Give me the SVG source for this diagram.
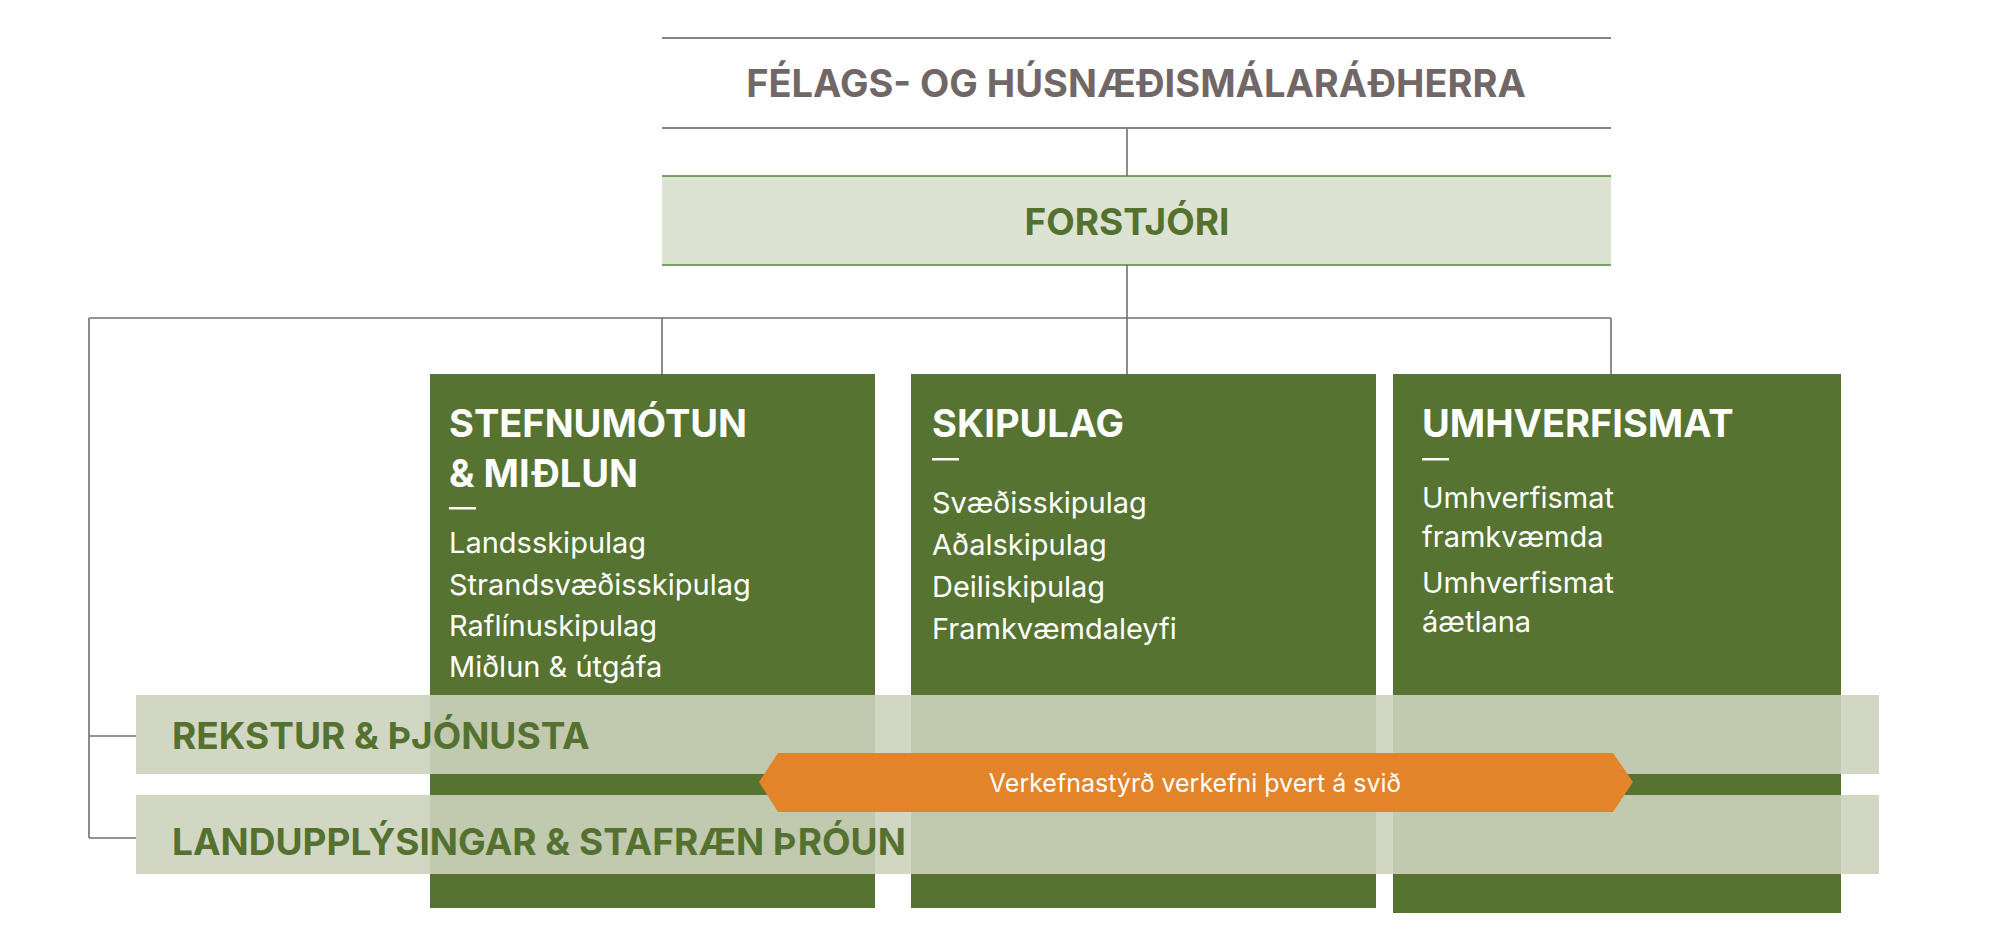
<svg xmlns="http://www.w3.org/2000/svg" width="2000" height="945" viewBox="0 0 2000 945">
<style>
text{font-family:Inter,Roboto,"Liberation Sans",sans-serif}
.con{stroke:#707070;stroke-width:1.6;fill:none}
.box{fill:#567332}
.h{fill:#fff;font-weight:700;font-size:38px}
.i{fill:#fff;font-size:29px}
.band{fill:#cdd3bd;opacity:0.9}
.bt{fill:#55712f;font-weight:700;font-size:37px}
</style>
<rect width="2000" height="945" fill="#fff"/>
<g id="connectors">
<path class="con" d="M1127 128V176M1127 265V374M89 318H1611M662 318V374M1611 318V374M89 318V838M89 736H136M89 838H136"/>
</g>
<g id="minister">
<line x1="662" y1="38" x2="1611" y2="38" stroke="#8a8282" stroke-width="2"/>
<line x1="662" y1="128" x2="1611" y2="128" stroke="#8a8282" stroke-width="2"/>
<text x="1136" y="97" text-anchor="middle" fill="#716767" font-weight="700" font-size="38">FÉLAGS- OG HÚSNÆÐISMÁLARÁÐHERRA</text>
</g>
<g id="forstjori">
<rect x="662" y="176" width="949" height="89" fill="#dde3d3"/>
<line x1="662" y1="176" x2="1611" y2="176" stroke="#4f8a3a" stroke-width="1.5"/>
<line x1="662" y1="265" x2="1611" y2="265" stroke="#4f8a3a" stroke-width="1.5"/>
<text x="1127" y="235" text-anchor="middle" fill="#55712f" font-weight="700" font-size="37">FORSTJÓRI</text>
</g>
<g id="stefnumotun">
<rect class="box" x="430" y="374" width="445" height="534"/>
<text class="h" x="449" y="437">STEFNUMÓTUN</text>
<text class="h" x="449" y="487">&amp; MIÐLUN</text>
<rect x="449" y="507" width="27" height="2.5" fill="#fff"/>
<text class="i" x="449" y="553">Landsskipulag</text>
<text class="i" x="449" y="595">Strandsvæðisskipulag</text>
<text class="i" x="449" y="636">Raflínuskipulag</text>
<text class="i" x="449" y="677">Miðlun &amp; útgáfa</text>
</g>
<g id="skipulag">
<rect class="box" x="911" y="374" width="465" height="534"/>
<text class="h" x="932" y="437">SKIPULAG</text>
<rect x="932" y="458" width="27" height="2.5" fill="#fff"/>
<text class="i" x="932" y="513">Svæðisskipulag</text>
<text class="i" x="932" y="555">Aðalskipulag</text>
<text class="i" x="932" y="597">Deiliskipulag</text>
<text class="i" x="932" y="639">Framkvæmdaleyfi</text>
</g>
<g id="umhverfismat">
<rect class="box" x="1393" y="374" width="448" height="539"/>
<text class="h" x="1422" y="437">UMHVERFISMAT</text>
<rect x="1422" y="458" width="27" height="2.5" fill="#fff"/>
<text class="i" x="1422" y="508">Umhverfismat</text>
<text class="i" x="1422" y="547">framkvæmda</text>
<text class="i" x="1422" y="593">Umhverfismat</text>
<text class="i" x="1422" y="632">áætlana</text>
</g>
<g id="rekstur">
<rect class="band" x="136" y="695" width="1743" height="79"/>
<text class="bt" x="172" y="749">REKSTUR &amp; ÞJÓNUSTA</text>
</g>
<g id="landupplysingar">
<rect class="band" x="136" y="795" width="1743" height="79"/>
<text class="bt" x="172" y="855">LANDUPPLÝSINGAR &amp; STAFRÆN ÞRÓUN</text>
</g>
<g id="verkefni">
<polygon points="759,782 778,753 1613,753 1633,782 1613,812 778,812" fill="#e3832a"/>
<text x="1195" y="792" text-anchor="middle" fill="#fff" font-size="25">Verkefnastýrð verkefni þvert á svið</text>
</g>
</svg>
